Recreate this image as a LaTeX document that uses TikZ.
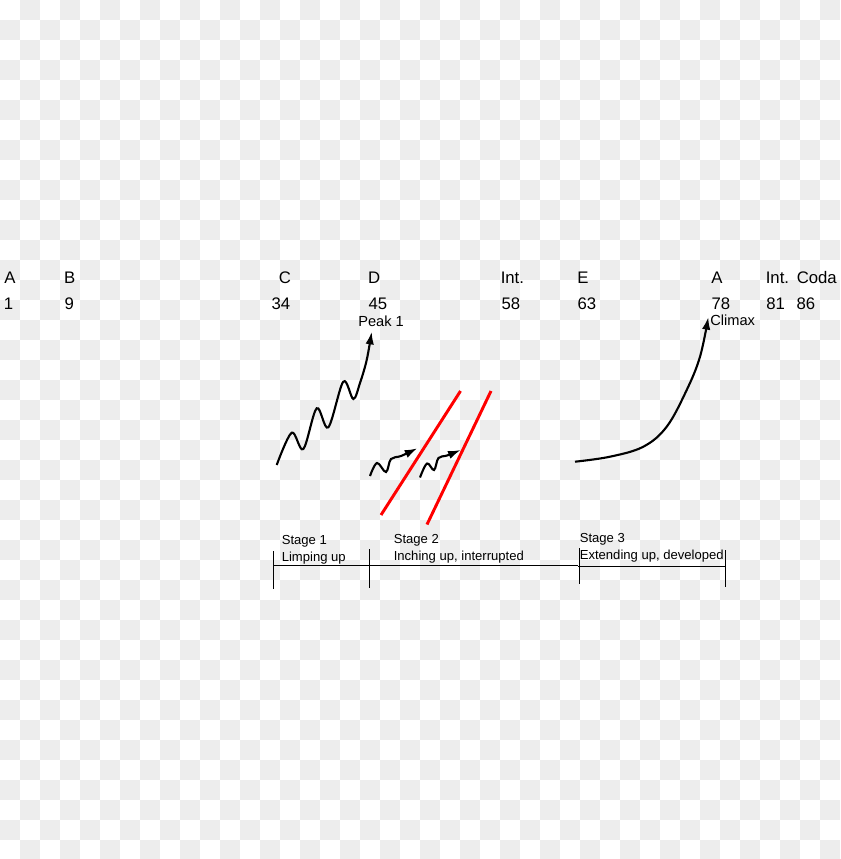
\documentclass[tikz,border=0pt]{standalone}
\usepackage{fontspec}
\setmainfont{Liberation Sans}
\usetikzlibrary{arrows.meta,positioning}

\definecolor{checkgrey}{HTML}{EDEDED}

\tikzset{
    checker/.style={fill=checkgrey},
    sectlabel/.style={anchor=base west, inner sep=0pt, font=\fontsize{11.9}{14}\selectfont},
    notelabel/.style={anchor=base west, inner sep=0pt, font=\fontsize{10.4}{12}\selectfont},
    stagelabel/.style={anchor=base west, inner sep=0pt, font=\fontsize{9.3}{11}\selectfont},
    growth/.style={line width=1.5pt, -{Latex[length=9pt,width=6pt]}},
    barrier/.style={red, line width=2.1pt},
    timeline/.style={line width=0.7pt},
}

\begin{document}
\begin{tikzpicture}[
    x=0.025cm, y=-0.025cm, % 1 unit = 1 px, y downwards
    >=Latex,
]
    \useasboundingbox (0,0) rectangle (840,859);
    \clip (0,0) rectangle (840,859);

    % --- 0. checker background ---
    \foreach \j in {0,...,42}
        \foreach \i in {0,...,41} {
            \pgfmathtruncatemacro\odd{mod(\i+\j,2)}
            \ifnum\odd=1 \fill[checker] (\i*20,\j*20) rectangle ++(20,20); \fi
        }

    % --- 1. sections and bar numbers ---
    \def\yLetter{283.5}
    \def\yBar{309.5}

    \foreach \x/\name/\lab in {4/secA/A, 63.8/secB/B, 278.5/secC/C, 367.8/secD/D,
        500.5/secInt/Int., 577/secE/E, 711/secAr/A, 765.5/secIntb/Int., 796.5/secCoda/Coda}
        \node[sectlabel] (\name) at (\x,\yLetter) {\lab};

    \foreach \x/\num in {3.5/1, 64.3/9, 271.3/34, 368.3/45, 501.3/58,
        577.3/63, 711.3/78, 766/81, 796.3/86}
        \node[sectlabel] (bar\num) at (\x,\yBar) {\num};

    \node[notelabel] (peak) at (358,326.5) {Peak 1};
    \node[notelabel] (climax) at (710,325.5) {Climax};

    % --- 2. growth curves ---
    % stage 1: limping up
    \draw[growth] plot[smooth, tension=0.55] coordinates {(276.7,465) (291.7,432.7)
        (303.3,449) (316.7,408.3) (328.3,427.3) (343.3,381.7) (353.3,399)
        (360,383) (366.7,360) (371.7,331.7)};

    % stage 2: inching up, interrupted
    \draw[growth] plot[smooth, tension=0.6] coordinates {(370,476) (377,463)
        (386,472) (391,459) (401,456) (417.3,448.3)};
    \draw[growth] plot[smooth, tension=0.6] coordinates {(420,477.5) (427,463.5)
        (434,470) (438.5,458) (447,455.5) (460.7,450)};

    \coordinate (wallAbot) at (381,515);
    \coordinate (wallAtop) at (460.5,391);
    \coordinate (wallBbot) at (427,524.5);
    \coordinate (wallBtop) at (491,391);
    \draw[barrier] (wallAbot) -- (wallAtop);
    \draw[barrier] (wallBbot) -- (wallBtop);

    % stage 3: extending up, developed
    \draw[growth] plot[smooth, tension=0.6] coordinates {(575,461.7) (610,456.7)
        (643.3,446.7) (666.7,426.7) (686.7,390) (700,356.7) (708.3,317)};

    % --- 3. stage labels ---
    \node[stagelabel] (stage1) at (281.5,544.5) {Stage 1};
    \node[stagelabel] (limp) at (281.5,561) {Limping up};
    \node[stagelabel] (stage2) at (393.5,543.5) {Stage 2};
    \node[stagelabel] (inch) at (393.5,560) {Inching up, interrupted};
    \node[stagelabel] (stage3) at (579.5,542.5) {Stage 3};
    \node[stagelabel] (extend) at (579.5,559) {Extending up, developed};

    % --- 4. time line ---
    \coordinate (tl1) at (273,565.5);
    \coordinate (tl2) at (578,565.5);
    \coordinate (tl3) at (578,566.5);
    \coordinate (tl4) at (725,566.5);
    \draw[timeline] (tl1) -- (tl2);
    \draw[timeline] (tl3) -- (tl4);

    \draw[timeline] (273,551) -- (273,589);
    \draw[timeline] (369,549) -- (369,588);
    \draw[timeline] (579,548) -- (579,584);
    \draw[timeline] (725,550) -- (725,587);

\end{tikzpicture}
\end{document}
